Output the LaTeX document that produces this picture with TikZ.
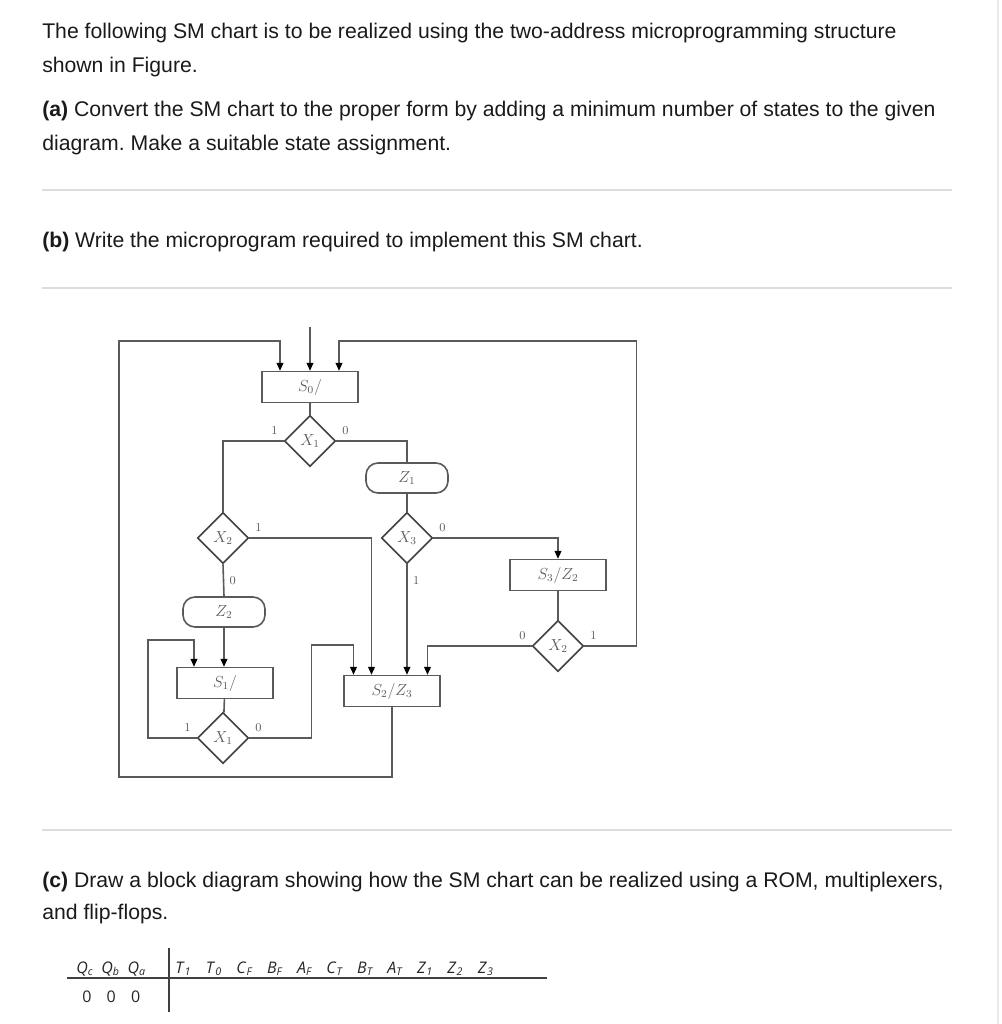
\documentclass[tikz,border=0pt]{standalone}
\usepackage{fontspec}
\setmainfont{Liberation Sans}
\newfontfamily\tablefont{Open Sans}
\usetikzlibrary{shapes.geometric, positioning, arrows.meta, calc}
\definecolor{chartgray}{HTML}{5A5A5A}
\definecolor{rulegray}{HTML}{DDDDDD}
\definecolor{inkblack}{HTML}{1A1A1A}
\newcommand{\sig}[2]{\textit{#1}\textsubscript{\itshape #2}}
\frenchspacing
\tikzset{
  para/.style={anchor=base west, inner sep=0pt, text=inkblack, font=\fontsize{15.9}{18}\selectfont},
  sep/.style={draw=rulegray, line width=1.5pt},
  state/.style={rectangle, minimum width=72pt, minimum height=23pt, inner sep=0pt, draw=chartgray, line width=1.2pt, text=chartgray, font=\fontsize{11.5}{13}\selectfont},
  decision/.style={diamond, minimum width=38.25pt, minimum height=38.25pt, inner sep=0pt, draw=black!75, line width=1.2pt, text=chartgray, font=\fontsize{11.5}{13}\selectfont},
  condout/.style={rectangle, rounded corners=9pt, minimum width=61.5pt, minimum height=22.5pt, inner sep=0pt, draw=chartgray, line width=1.2pt, text=chartgray, font=\fontsize{11.5}{13}\selectfont},
  link/.style={draw=chartgray, line width=1.2pt},
  arrow/.style={link, -{Triangle[length=6pt, width=5pt, color=black]}},
  lbl/.style={inner sep=4pt, text=chartgray, font=\fontsize{9.5}{10}\selectfont},
  tabhead/.style={anchor=base west, inner sep=0pt, text=black!85, font=\tablefont\fontsize{12}{13}\selectfont},
  tabrule/.style={draw=black!75, line width=1.1pt}
}
\begin{document}
\begin{tikzpicture}[x=0.75pt, y=-0.75pt]
\useasboundingbox (0,0) rectangle (1002,1024);
\draw [draw=black!8, line width=1.5pt] (998,0) -- (998,1024);

% question text
\node (q1) [para] at (42,39) {The following SM chart is to be realized using the two-address microprogramming structure};
\node (q2) [para] at (42,73) {shown in Figure.};
\node (qa1) [para] at (42,116) {\textbf{(a)} Convert the SM chart to the proper form by adding a minimum number of states to the given};
\node (qa2) [para] at (42,150) {diagram. Make a suitable state assignment.};
\node (qb) [para] at (42,247) {\textbf{(b)} Write the microprogram required to implement this SM chart.};
\node (qc1) [para] at (42,887) {\textbf{(c)} Draw a block diagram showing how the SM chart can be realized using a ROM, multiplexers,};
\node (qc2) [para] at (42,919) {and flip-flops.};
\draw [sep] (42,190) -- (952,190);
\draw [sep] (42,288) -- (952,288);
\draw [sep] (42,830) -- (952,830);

% SM chart
\node (s0) [state] at (310,387) {$S_0/$};
\node (x1a) [decision] at (310,441) {$X_1$};
\node (z1) [condout] at (407,478) {$Z_1$};
\node (x2a) [decision] at (223,538) {$X_2$};
\node (x3) [decision] at (407,538) {$X_3$};
\node (s3) [state] at (558,575) {$S_3/Z_2$};
\node (z2) [condout] at (224,612) {$Z_2$};
\node (x2b) [decision] at (558,646) {$X_2$};
\node (s1) [state] at (225,683) {$S_1/$};
\node (s2) [state] at (392,691) {$S_2/Z_3$};
\node (x1b) [decision] at (223,738) {$X_1$};
\coordinate (entry) at (310,327);

\draw [arrow] (entry) -- (s0.north);
\draw [link] (s0) -- (x1a);
\draw [link] (x1a.west) node[lbl, above left] {$1$} -| (x2a.north);
\draw [link] (x1a.east) node[lbl, above right] {$0$} -| (z1.north);
\draw [link] (z1) -- (x3);
\draw [link] (x2a.south) -- node[lbl, right] {$0$} (z2.north);
\draw [arrow] (z2.south) -- (z2.south |- s1.north);
\draw [link] (s1) -- (x1b);
\draw [arrow] (x2a.east) node[lbl, above right] {$1$} -| ($(s2.north)+(-20.5,0)$);
\draw [arrow] (x3.east) node[lbl, above right] {$0$} -| (s3.north);
\draw [arrow] (x3.south) -- node[lbl, right, pos=0.15] {$1$} (x3.south |- s2.north);
\draw [link] (s3) -- (x2b);
\draw [arrow] (x2b.west) node[lbl, above left] {$0$} -| ($(s2.north)+(35.5,0)$);

% loops back to the states
\draw [arrow] (x1b.west) node[lbl, above left] {$1$} -- ++(-49,0) |- ($(s1.north)+(-31,-27)$) -- ($(s1.north)+(-31,0)$);
\draw [arrow] (x1b.east) node[lbl, above right] {$0$} -- ++(62,0) |- ($(s2.north)+(-38.5,-30)$) -- ($(s2.north)+(-38.5,0)$);
\draw [arrow] (x2b.east) node[lbl, above right] {$1$} -- ++(52,0) |- ($(s0.north)+(29,-30)$) -- ($(s0.north)+(29,0)$);
\draw [arrow] (s2.south) -- ++(0,70) -| ($(s0.north)+(-191,-30)$) -- ($(s0.north)+(-30,-30)$) -- ($(s0.north)+(-30,0)$);

% microprogram table head
\node (thq) [tabhead] at (76,973) {\sig{Q}{c}\hspace{6pt}\sig{Q}{b}\hspace{6pt}\sig{Q}{a}};
\node (tho) [tabhead] at (175,973) {\sig{T}{1}\hspace{11pt}\sig{T}{0}\hspace{11pt}\sig{C}{F}\hspace{11pt}\sig{B}{F}\hspace{11pt}\sig{A}{F}\hspace{11pt}\sig{C}{T}\hspace{11pt}\sig{B}{T}\hspace{11pt}\sig{A}{T}\hspace{11pt}\sig{Z}{1}\hspace{11pt}\sig{Z}{2}\hspace{11pt}\sig{Z}{3}};
\node (trow) [tabhead, font=\tablefont\fontsize{12}{13}\selectfont] at (82,1002) {0\hspace{11.5pt}0\hspace{11.5pt}0};
\draw [tabrule] (67,978) -- (547,978);
\draw [tabrule, line width=1.4pt] (169,948) -- (169,1012);
\end{tikzpicture}
\end{document}
